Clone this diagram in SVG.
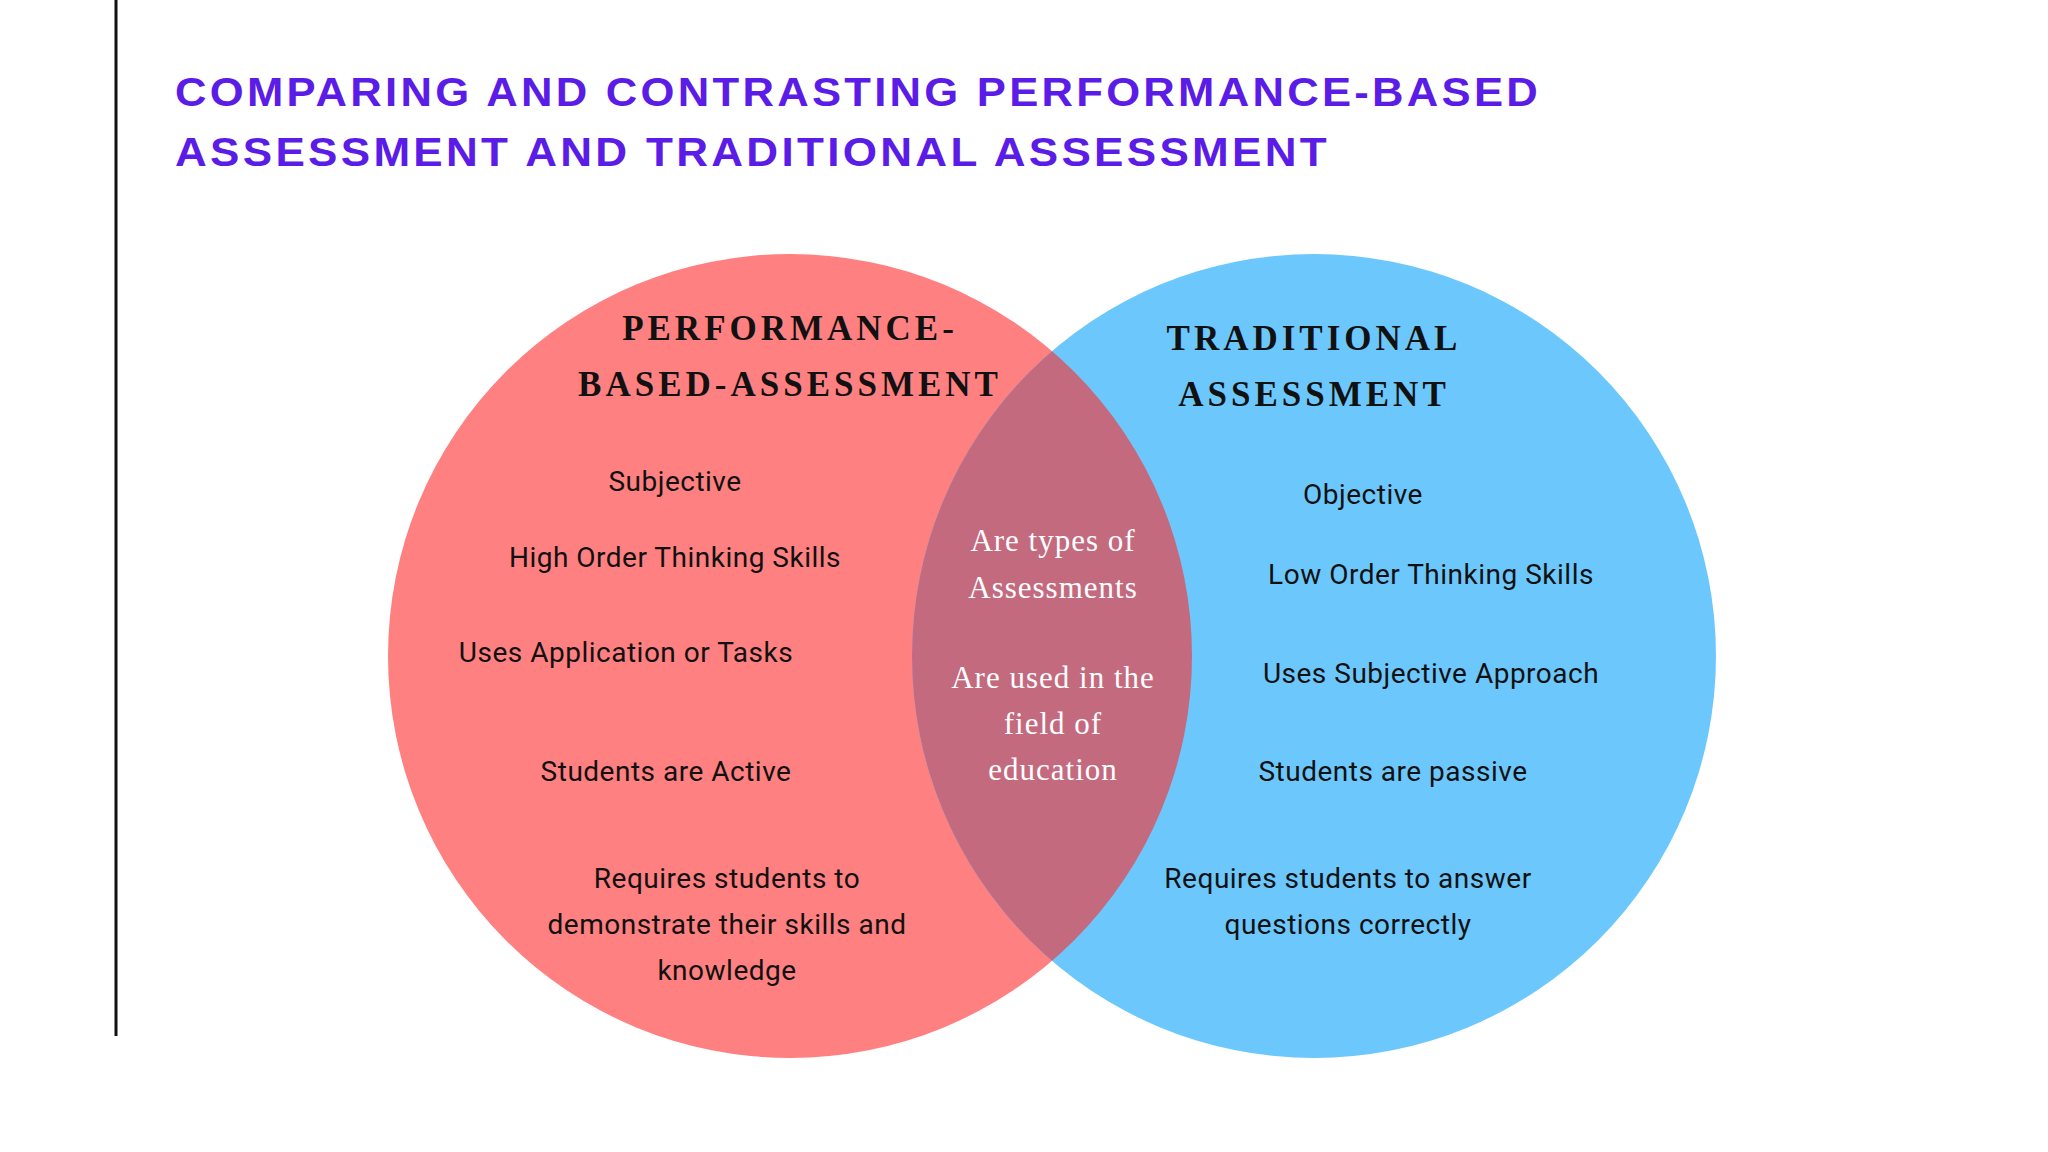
<svg xmlns="http://www.w3.org/2000/svg" width="2048" height="1152" viewBox="0 0 2048 1152">
<style>
.t{font-family:"Liberation Sans",Arial,sans-serif;font-weight:bold;font-size:40px;fill:#5A1CE6;letter-spacing:3px}
.h{font-family:"Liberation Serif","Times New Roman",serif;font-weight:bold;font-size:35px;fill:#111;text-anchor:middle;letter-spacing:4px}
.i{font-family:Roboto,"Liberation Sans",sans-serif;font-size:28px;fill:#111;text-anchor:middle;letter-spacing:0.5px}
.m{font-family:"Liberation Serif","Times New Roman",serif;font-size:31px;fill:#fff;text-anchor:middle;letter-spacing:1px}
</style>
<defs><clipPath id="cl"><circle cx="790" cy="656" r="402"/></clipPath></defs>
<rect width="2048" height="1152" fill="#fff"/>
<line x1="116" y1="0" x2="116" y2="1036" stroke="#111" stroke-width="3"/>
<g id="title">
<text class="t" x="175" y="106" textLength="1366" lengthAdjust="spacingAndGlyphs">COMPARING AND CONTRASTING PERFORMANCE-BASED</text>
<text class="t" x="175" y="166" textLength="1155" lengthAdjust="spacingAndGlyphs">ASSESSMENT AND TRADITIONAL ASSESSMENT</text>
</g>
<g id="left"><circle cx="790" cy="656" r="402" fill="#FF8080"/></g>
<g id="right"><circle cx="1314" cy="656" r="402" fill="#6CC8FC"/></g>
<g id="overlap"><circle cx="1314" cy="656" r="402" fill="#C46A7F" clip-path="url(#cl)"/></g>
<g id="connectors"></g>
<g id="left-text">
<text class="h" x="790" y="340">PERFORMANCE-</text>
<text class="h" x="790" y="396">BASED-ASSESSMENT</text>
<text class="i" x="675" y="491">Subjective</text>
<text class="i" x="675" y="567">High Order Thinking Skills</text>
<text class="i" x="626" y="662">Uses Application  or Tasks</text>
<text class="i" x="666" y="781">Students are Active</text>
<text class="i" x="727" y="888">Requires students to</text>
<text class="i" x="727" y="934">demonstrate their skills and</text>
<text class="i" x="727" y="980">knowledge</text>
</g>
<g id="right-text">
<text class="h" x="1314" y="350">TRADITIONAL</text>
<text class="h" x="1314" y="406">ASSESSMENT</text>
<text class="i" x="1363" y="504">Objective</text>
<text class="i" x="1431" y="584">Low Order Thinking Skills</text>
<text class="i" x="1431" y="683">Uses Subjective Approach</text>
<text class="i" x="1393" y="781">Students are passive</text>
<text class="i" x="1348" y="888">Requires students to answer</text>
<text class="i" x="1348" y="934">questions correctly</text>
</g>
<g id="middle-text">
<text class="m" x="1053" y="551">Are types of</text>
<text class="m" x="1053" y="598">Assessments</text>
<text class="m" x="1053" y="688">Are used in the</text>
<text class="m" x="1053" y="734">field of</text>
<text class="m" x="1053" y="780">education</text>
</g>
</svg>
